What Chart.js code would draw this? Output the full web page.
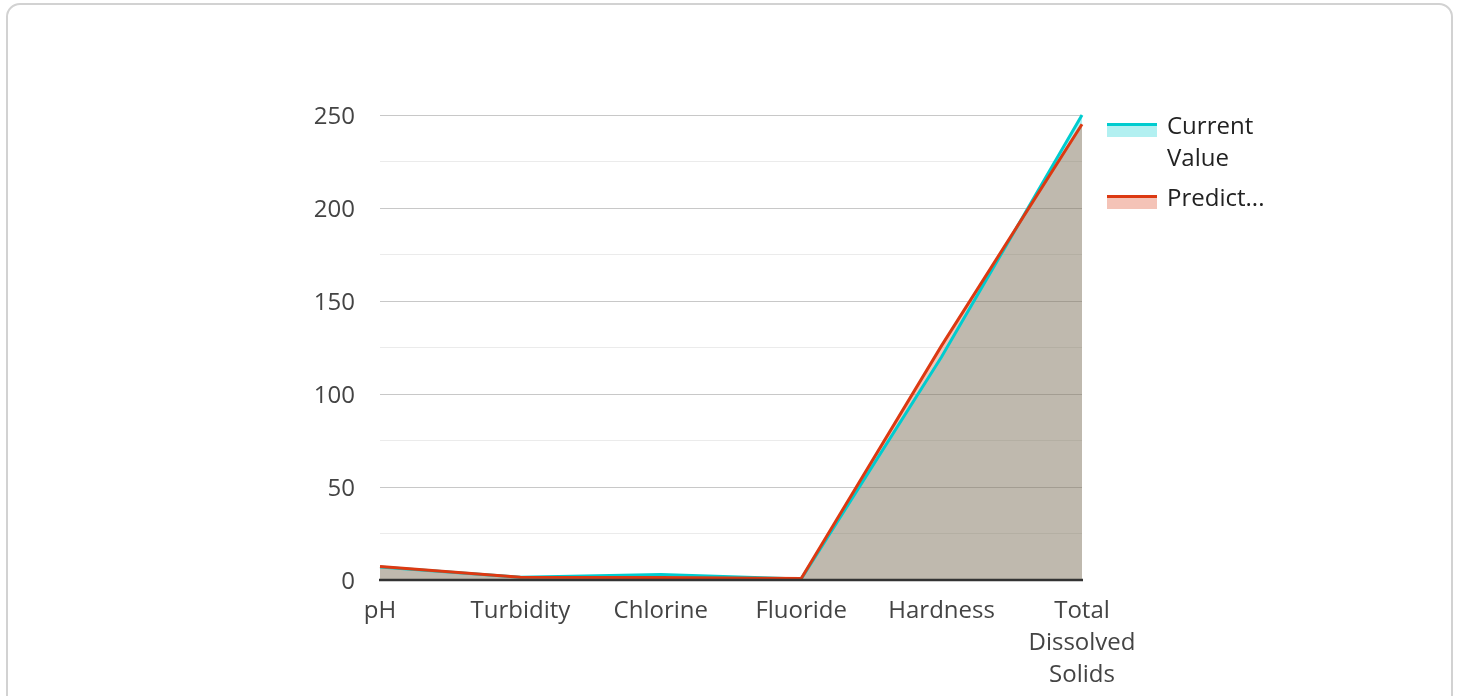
<!DOCTYPE html>
<html>
<head>
<meta charset="utf-8">
<title>Water Quality – Current vs Predicted</title>
<script src="https://cdn.jsdelivr.net/npm/chart.js@4.4.1/dist/chart.umd.min.js"></script>
<style>
  html, body { margin: 0; padding: 0; background: #fff; overflow: hidden; }
  body { width: 1458px; height: 696px; position: relative; }
  .card {
    position: absolute; left: 6px; top: 3px; width: 1447px; height: 760px;
    box-sizing: border-box; border: 2px solid #d2d2d2; border-radius: 14px; background: #fff;
  }
  #chart { position: absolute; left: 0; top: 0; }
</style>
</head>
<body>
<div class="card"></div>
<canvas id="chart" width="1458" height="696"></canvas>
<script>
// Parameters measured at the sampling point
const categories = ['pH', 'Turbidity', 'Chlorine', 'Fluoride', 'Hardness', ['Total', 'Dissolved', 'Solids']];
const seriesNames = ['Current Value', 'Predicted Value'];
const currentValues = [7, 1.5, 3, 0.6, 120, 250];
const predictedValues = [7.2, 1.5, 1.3, 0.8, 126, 245];
const yTickValues = [0, 50, 100, 150, 200, 250];

const CYAN = '#00cccf';
const RED = '#dc3912';
const FONT = '"Open Sans", "Noto Sans", sans-serif';

// Dark zero baseline drawn over the filled areas
const baselinePlugin = {
  id: 'baseline',
  afterDatasetsDraw(chart) {
    const { ctx, chartArea, scales } = chart;
    const y = scales.y.getPixelForValue(0);
    ctx.save();
    ctx.strokeStyle = '#333333';
    ctx.lineWidth = 2.5;
    ctx.beginPath();
    ctx.moveTo(chartArea.left - 1, y);
    ctx.lineTo(chartArea.right + 1, y);
    ctx.stroke();
    ctx.restore();
  }
};

// Legend on the right: line-over-area swatch, wrapped or truncated labels
const sideLegendPlugin = {
  id: 'sideLegend',
  afterDraw(chart) {
    const { ctx, chartArea } = chart;
    const x0 = chartArea.right + 25;
    const swatchW = 50;
    const textX = x0 + swatchW + 10;
    const maxTextW = 102;
    const lineH = 32;
    ctx.save();
    ctx.font = '24px ' + FONT;
    const fitLines = (label) => {
      const words = label.split(' ');
      if (ctx.measureText(words[0]).width > maxTextW) {
        let s = words[0];
        while (s.length > 1 && ctx.measureText(s + '...').width > maxTextW) s = s.slice(0, -1);
        return [s + '...'];
      }
      const lines = [];
      let cur = '';
      words.forEach(w => {
        const t = cur ? cur + ' ' + w : w;
        if (ctx.measureText(t).width <= maxTextW) cur = t;
        else { lines.push(cur); cur = w; }
      });
      if (cur) lines.push(cur);
      return lines;
    };
    let top = chartArea.top + 8;
    chart.data.datasets.forEach(ds => {
      const lines = fitLines(ds.label);
      ctx.fillStyle = ds.backgroundColor;
      ctx.fillRect(x0, top + 3, swatchW, 11);
      ctx.fillStyle = ds.borderColor;
      ctx.fillRect(x0, top, swatchW, 3);
      ctx.fillStyle = '#222222';
      ctx.textBaseline = 'alphabetic';
      ctx.textAlign = 'left';
      lines.forEach((ln, i) => ctx.fillText(ln, textX, top + 11 + i * lineH));
      top += lines.length * lineH + 8;
    });
    ctx.restore();
  }
};

new Chart(document.getElementById('chart'), {
  type: 'line',
  data: {
    labels: categories,
    datasets: [
      {
        label: seriesNames[0],
        data: currentValues,
        borderColor: CYAN,
        backgroundColor: 'rgba(0, 206, 209, 0.3)',
        borderWidth: 3,
        fill: 'origin',
        pointRadius: 0,
        tension: 0,
        clip: false,
        order: 1
      },
      {
        label: seriesNames[1],
        data: predictedValues,
        borderColor: RED,
        backgroundColor: 'rgba(220, 57, 18, 0.3)',
        borderWidth: 3,
        fill: 'origin',
        pointRadius: 0,
        tension: 0,
        clip: false,
        order: 0
      }
    ]
  },
  options: {
    responsive: false,
    animation: false,
    events: [],
    layout: { padding: { left: 0, right: 376, top: 115, bottom: 0 } },
    plugins: {
      legend: { display: false },
      tooltip: { enabled: false },
      filler: { drawTime: 'beforeDatasetsDraw' }
    },
    scales: {
      x: {
        offset: false,
        grid: { display: false, drawTicks: false },
        border: { display: false },
        ticks: {
          color: '#444444',
          font: { family: FONT, size: 24, lineHeight: 1.333 },
          padding: 15,
          maxRotation: 0,
          autoSkip: false
        },
        afterFit(scale) { scale.height = 116; }
      },
      y: {
        min: 0,
        max: 250,
        grid: {
          drawTicks: false,
          lineWidth: 1,
          color: ctx => (yTickValues.includes(ctx.tick.value) ? '#c8c8c8' : '#ebebeb')
        },
        border: { display: false },
        ticks: {
          stepSize: 25,
          color: '#444444',
          font: { family: FONT, size: 24 },
          padding: 25,
          labelOffset: 2,
          callback: v => (yTickValues.includes(v) ? String(v) : '')
        },
        afterFit(scale) { scale.width = 380; }
      }
    }
  },
  plugins: [baselinePlugin, sideLegendPlugin]
});
</script>
</body>
</html>
